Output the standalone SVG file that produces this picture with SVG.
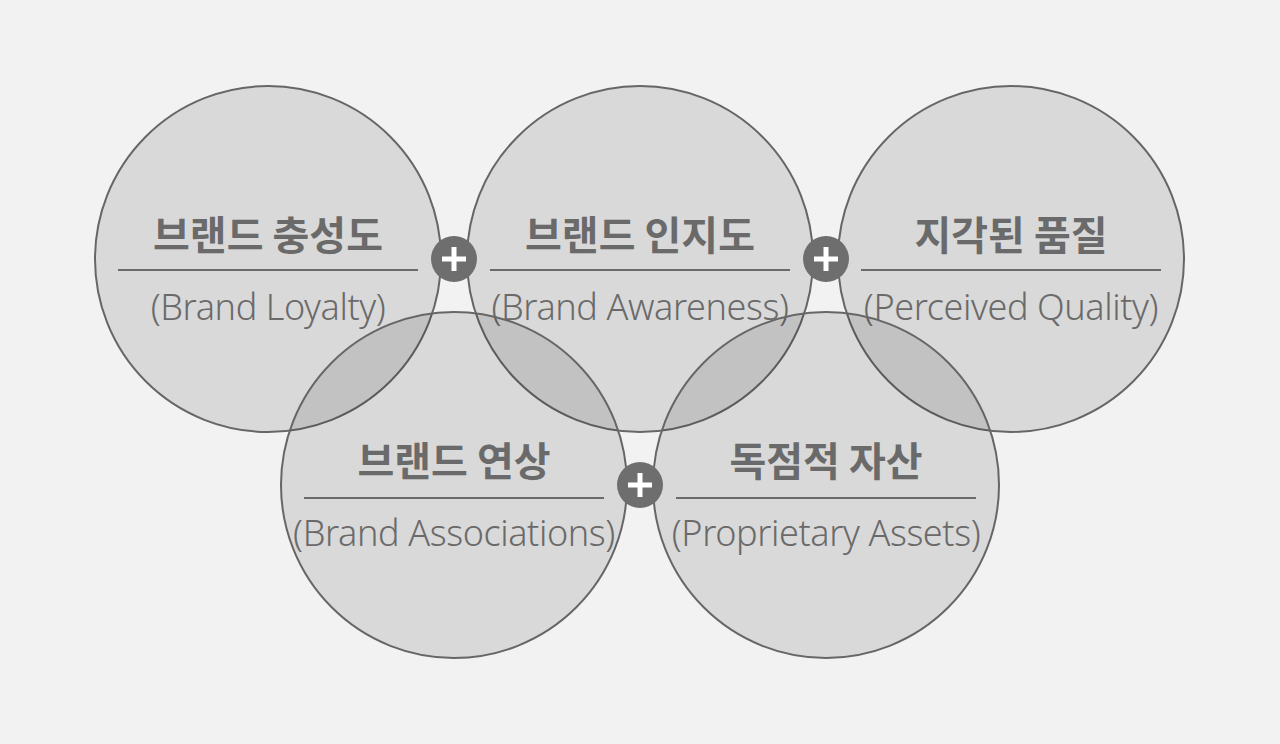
<svg xmlns="http://www.w3.org/2000/svg" width="1280" height="744" viewBox="0 0 1280 744">
<style>
.c{fill:#000;fill-opacity:0.1;stroke:#666;stroke-width:2}
.t{font-family:"Noto Sans CJK KR","Noto Sans",sans-serif;font-weight:600;font-size:40px;fill:#6a6a6a;text-anchor:middle}
.e{font-family:"Noto Sans","Noto Sans CJK KR",sans-serif;font-weight:300;font-size:36px;fill:#6a6a6a;text-anchor:middle;letter-spacing:-0.4px}
.l{stroke:#6a6a6a;stroke-width:2}
.p{fill:#6e6e6e}
.x{stroke:#fff;stroke-width:5}
</style>
<rect width="1280" height="744" fill="#f2f2f2"/>
<g id="n1"><circle class="c" cx="268" cy="259" r="173"/><text class="t" x="268" y="250">브랜드 충성도</text><line class="l" x1="118" y1="270" x2="418" y2="270"/><text class="e" x="268" y="320">(Brand Loyalty)</text></g>
<g id="n2"><circle class="c" cx="640" cy="259" r="173"/><text class="t" x="640" y="250">브랜드 인지도</text><line class="l" x1="490" y1="270" x2="790" y2="270"/><text class="e" x="640" y="320">(Brand Awareness)</text></g>
<g id="n3"><circle class="c" cx="1011" cy="259" r="173"/><text class="t" x="1011" y="250">지각된 품질</text><line class="l" x1="861" y1="270" x2="1161" y2="270"/><text class="e" x="1011" y="320">(Perceived Quality)</text></g>
<g id="n4"><circle class="c" cx="454" cy="485" r="173"/><text class="t" x="454" y="476">브랜드 연상</text><line class="l" x1="304" y1="498" x2="604" y2="498"/><text class="e" x="454" y="546">(Brand Associations)</text></g>
<g id="n5"><circle class="c" cx="826" cy="485" r="173"/><text class="t" x="826" y="476">독점적 자산</text><line class="l" x1="676" y1="498" x2="976" y2="498"/><text class="e" x="826" y="546">(Proprietary Assets)</text></g>
<g id="connectors">
<g id="p1"><circle class="p" cx="454" cy="259" r="23"/><path class="x" d="M442 259H466M454 247V271"/></g>
<g id="p2"><circle class="p" cx="826" cy="259" r="23"/><path class="x" d="M814 259H838M826 247V271"/></g>
<g id="p3"><circle class="p" cx="640" cy="485" r="23"/><path class="x" d="M628 485H652M640 473V497"/></g>
</g>
</svg>
